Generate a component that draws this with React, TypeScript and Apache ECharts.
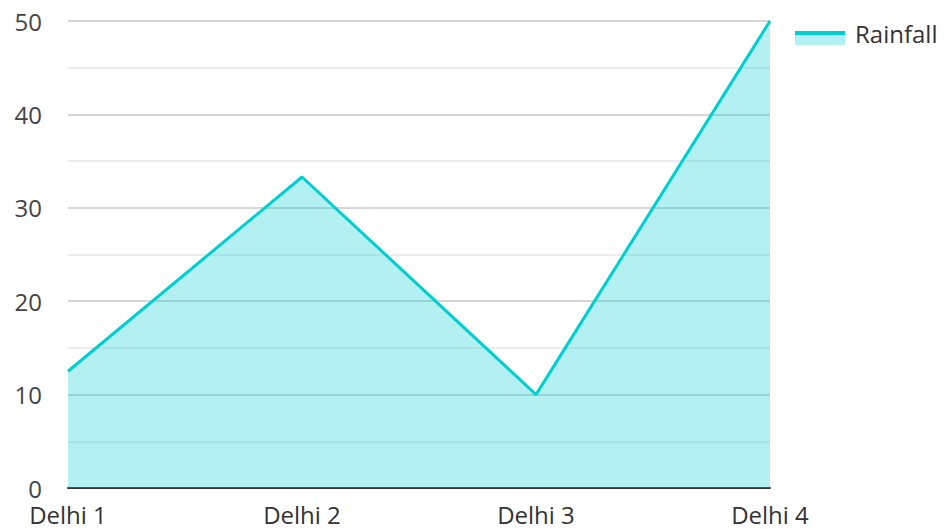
import React, { useEffect, useRef } from "react";
import * as echarts from "echarts";

const categories = ["Delhi 1", "Delhi 2", "Delhi 3", "Delhi 4"];
const seriesName = "Rainfall";
const rainfall = [12.5, 33.3, 10, 50];

const LINE = "#00CED1";
const FILL = "rgba(0,206,209,0.3)";
const FONT = "'Open Sans', 'Noto Sans', sans-serif";

export default function App() {
  const ref = useRef<HTMLDivElement>(null);
  useEffect(() => {
    if (!ref.current) return;
    const chart = echarts.init(ref.current, null, { renderer: "svg" });
    chart.setOption({
      animation: false,
      textStyle: { fontFamily: FONT },
      grid: { left: 68, right: 174, top: 21, bottom: 41, containLabel: false },
      xAxis: {
        type: "category",
        data: categories,
        boundaryGap: false,
        axisLine: { lineStyle: { color: "#333", width: 2 } },
        axisTick: { show: false },
        axisLabel: { color: "#333", fontSize: 24, lineHeight: 20, margin: 16, fontFamily: FONT },
        splitLine: { show: false },
      },
      yAxis: {
        type: "value",
        min: 0,
        max: 50,
        interval: 10,
        axisLine: { show: false },
        axisTick: { show: false },
        axisLabel: { color: "#444", fontSize: 24, lineHeight: 20, margin: 26, fontFamily: FONT },
        splitLine: { lineStyle: { color: "#c8c8c8", width: 1.5 } },
        minorTick: { show: false, splitNumber: 2 },
        minorSplitLine: { show: true, lineStyle: { color: "#e6e6e6", width: 1.5 } },
      },
      series: [
        {
          name: seriesName,
          type: "line",
          data: rainfall,
          showSymbol: false,
          symbol: "none",
          lineStyle: { color: LINE, width: 3 },
          itemStyle: { color: LINE },
          areaStyle: { color: FILL, opacity: 1 },
        },
      ],
      graphic: [
        { type: "rect", shape: { x: 795, y: 34, width: 50, height: 11 }, style: { fill: FILL } },
        { type: "line", shape: { x1: 795, y1: 33, x2: 845, y2: 33 }, style: { stroke: LINE, lineWidth: 4 } },
        {
          type: "text",
          x: 855,
          y: 33,
          style: { text: seriesName, fill: "#333", font: `24px ${FONT}`, verticalAlign: "middle" },
        },
      ],
    });
    return () => chart.dispose();
  }, []);
  return (
    <div
      ref={ref}
      style={{ position: "fixed", left: 0, top: 0, width: 944, height: 529, background: "#fff" }}
    />
  );
}
